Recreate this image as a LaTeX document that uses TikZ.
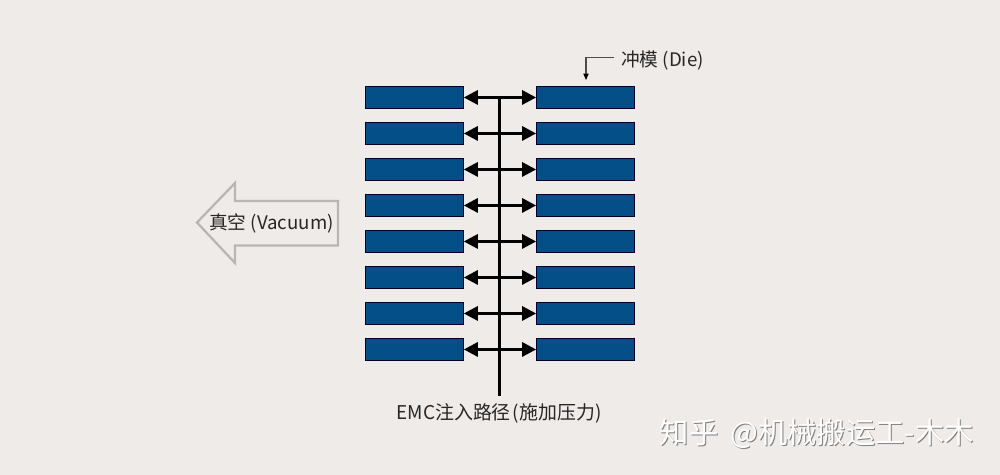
\documentclass[tikz,border=0pt]{standalone}
\usepackage{fontspec}
\setmainfont{Noto Sans CJK SC}
\begin{document}
\begin{tikzpicture}[x=0.75pt,y=-0.75pt,
  diebox/.style={draw=black!85!blue,line width=0.7pt,fill=dieblue,minimum width=73.5pt,minimum height=16.5pt,inner sep=0pt,anchor=north west},
  tube/.style={line width=2.3pt,draw=black},
  flow/.style={line width=2.2pt,draw=black},
  tip/.style={fill=black,draw=none},
  label/.style={font=\fontsize{14pt}{16pt}\selectfont,text=black!85,inner sep=0pt},
  wm/.style={font=\fontsize{22pt}{24pt}\selectfont,inner sep=0pt,anchor=west}]
\definecolor{dieblue}{HTML}{044F87}
\definecolor{bgc}{HTML}{EFEBE8}
\definecolor{arrowgray}{HTML}{B9B6B2}
\useasboundingbox (0,0) rectangle (1000,475);
\fill[bgc] (0,0) rectangle (1000,475);
% vacuum arrow
\draw[arrowgray,line width=1.7pt,line join=miter,fill=bgc] (197,222.5) -- (235,183) -- (235,201) -- (338,201) -- (338,245.5) -- (235,245.5) -- (235,263) -- cycle;
\node[label] (vac) at (271.5,223) {真空 (Vacuum)};
% central tube
\coordinate (tubetop) at (499.7,97);
\coordinate (tubebot) at (499.7,396);
\draw[tube] (tubetop) -- (tubebot);
% die rows
\foreach \i/\y in {1/86,2/122,3/158,4/194,5/230,6/266,7/302,8/338}{
  \node[diebox] (L\i) at (365,\y) {};
  \node[diebox] (R\i) at (536,\y) {};
  \draw[flow] ([xshift=8pt]L\i.east) -- ([xshift=-8pt]R\i.west);
  \fill[tip] (L\i.east) -- ++(14,-7.5) -- ++(0,15) -- cycle;
  \fill[tip] (R\i.west) -- ++(-14,-7.5) -- ++(0,15) -- cycle;
}
% die label
\node[label,anchor=west] (die) at (621,60) {冲模 (Die)};
\coordinate (dietip) at (586,80);
\draw[black!70,line width=0.8pt] (614,57.5) -- (586,57.5) -- (586,75);
\fill[black] (dietip) -- ++(-2.8,-6.5) -- ++(5.6,0) -- cycle;
% EMC label
\node[label,font=\fontsize{14.2pt}{16pt}\selectfont] (emc) at (499,413.5) {EMC注入路径\hspace{1.5pt}(施加压力)};
% watermark
\node[wm,text=black!50] (wms) at (660.5,435) {知乎\hspace{9pt}@机械搬运工-木木};
\node[wm,text=white] (wmt) at (659.5,434) {知乎\hspace{9pt}@机械搬运工-木木};
\end{tikzpicture}
\end{document}
